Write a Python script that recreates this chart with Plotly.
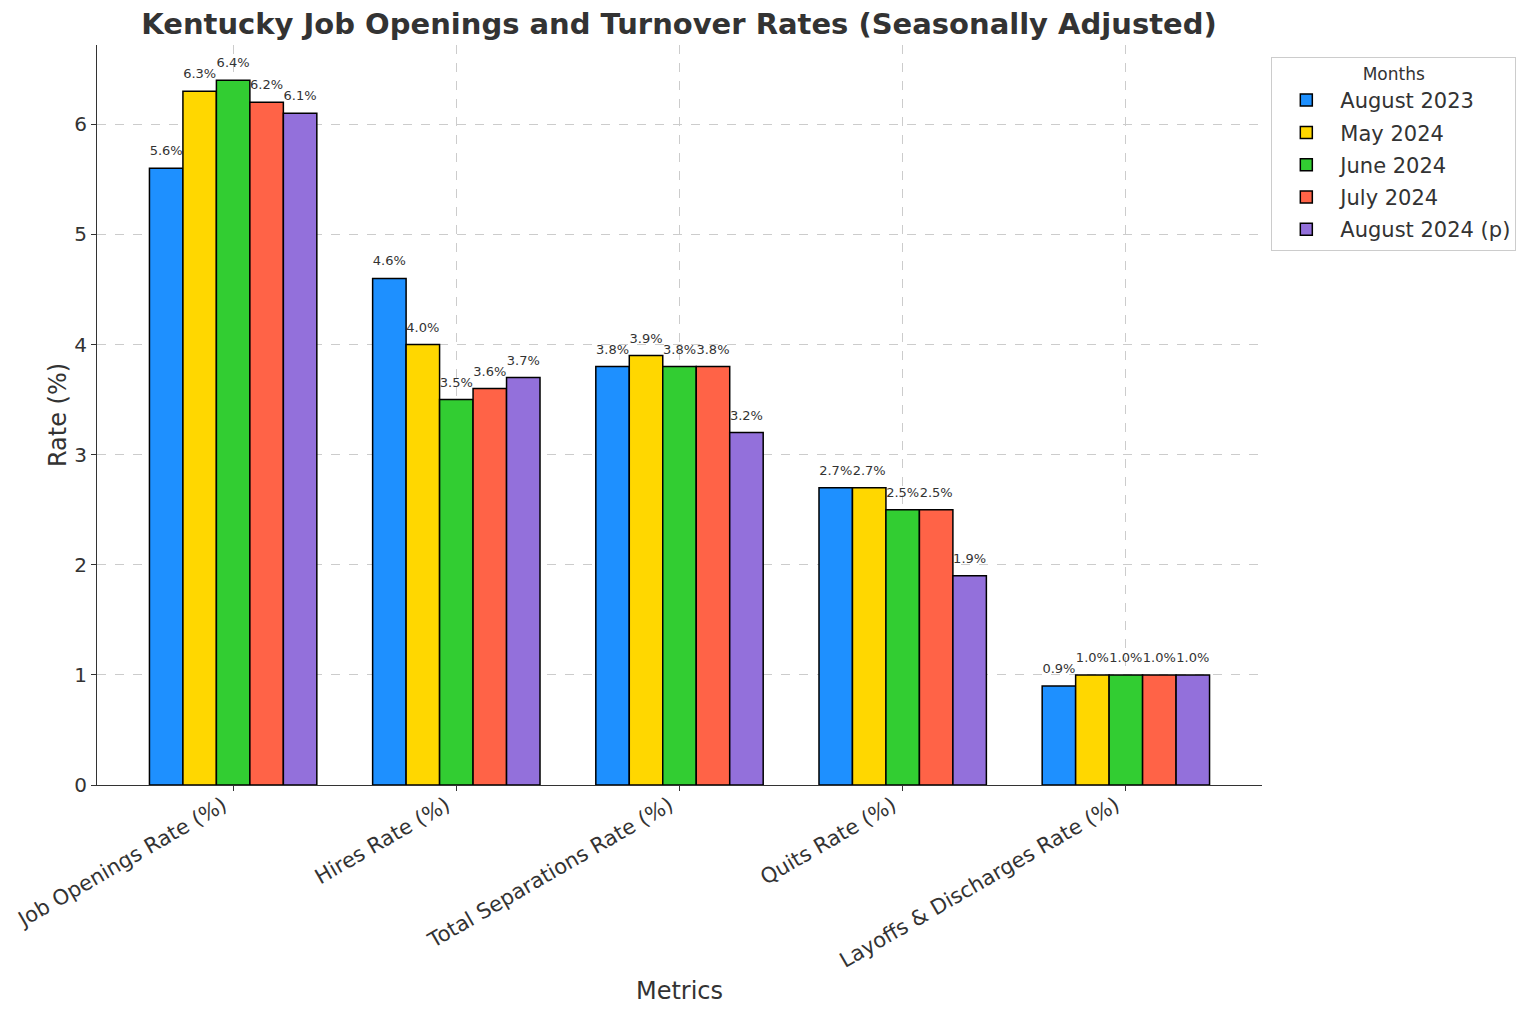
import plotly.graph_objects as go

categories = ["Job Openings Rate (%)", "Hires Rate (%)", "Total Separations Rate (%)",
              "Quits Rate (%)", "Layoffs & Discharges Rate (%)"]
months = ["August 2023", "May 2024", "June 2024", "July 2024", "August 2024 (p)"]
aug_2023 = [5.6, 4.6, 3.8, 2.7, 0.9]
may_2024 = [6.3, 4.0, 3.9, 2.7, 1.0]
jun_2024 = [6.4, 3.5, 3.8, 2.5, 1.0]
jul_2024 = [6.2, 3.6, 3.8, 2.5, 1.0]
aug_2024 = [6.1, 3.7, 3.2, 1.9, 1.0]
series = [aug_2023, may_2024, jun_2024, jul_2024, aug_2024]
colors = ["#1E90FF", "#FFD700", "#32CD32", "#FF6347", "#9370DB"]

FONT = "DejaVu Sans"
W, H = 1520, 1002  # page body has an 8px margin
fig = go.Figure()
for i, (name, vals, col) in enumerate(zip(months, series, colors)):
    fig.add_trace(go.Bar(
        x=categories, y=vals, name=name, legendgroup=name, offsetgroup=str(i),
        marker=dict(color=col, line=dict(color="black", width=1.5)),
        hoverinfo="skip",
    ))
for i, (name, vals) in enumerate(zip(months, series)):
    fig.add_trace(go.Scatter(
        x=categories, y=vals, mode="markers+text", offsetgroup=str(i),
        marker=dict(size=14, opacity=0), showlegend=False,
        text=[f"{v:.1f}%" for v in vals], textposition="top center",
        textfont=dict(size=13, color="#333333", family=FONT),
        cliponaxis=False, hoverinfo="skip",
    ))

fig.update_layout(
    width=W, height=H,
    barmode="group", bargap=0.25, bargroupgap=0,
    scattermode="group", scattergap=0.25,
    plot_bgcolor="white", paper_bgcolor="white",
    margin=dict(l=89, r=266, t=37, b=225, autoexpand=False),
    font=dict(family=FONT, color="#333333"),
    title=dict(text="<b>Kentucky Job Openings and Turnover Rates (Seasonally Adjusted)</b>",
               x=671 / W, xanchor="center", y=1 - 16 / H, yanchor="middle",
               font=dict(size=29, color="#333333", family=FONT)),
    legend=dict(title=dict(text="Months", side="top center", font=dict(size=17, color="#333333")),
                font=dict(size=21, color="#333333"),
                x=1.008, xanchor="left", y=0.984, yanchor="top",
                itemwidth=58, tracegroupgap=2,
                bordercolor="#cccccc", borderwidth=1, bgcolor="white"),
)
fig.update_xaxes(
    title=dict(text="Metrics", font=dict(size=24, color="#333333"), standoff=10),
    tickangle=-30, tickfont=dict(size=21, color="#333333"),
    ticklabelshift=-10, ticklabelstandoff=-6,
    range=[-0.61, 4.61], automargin=False,
    showline=True, linecolor="#333333", linewidth=1.2,
    ticks="outside", ticklen=5, tickcolor="#333333",
    showgrid=True, gridcolor="#cccccc", griddash="dash", gridwidth=1,
)
fig.update_yaxes(
    title=dict(text="Rate (%)", font=dict(size=24, color="#333333"), standoff=0),
    tickfont=dict(size=20, color="#333333"),
    range=[0, 6.72], dtick=1, automargin=False,
    showline=True, linecolor="#333333", linewidth=1.2,
    ticks="outside", ticklen=5, tickcolor="#333333",
    showgrid=True, gridcolor="#cccccc", griddash="dash", gridwidth=1,
    zeroline=False,
)
fig.write_html("out.html")
